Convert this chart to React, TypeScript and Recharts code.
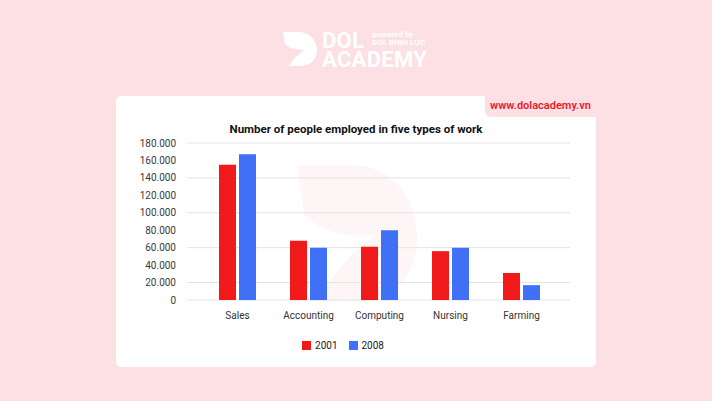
import { Bar, BarChart, CartesianGrid, Legend, XAxis, YAxis } from 'recharts'

const categories = ['Sales', 'Accounting', 'Computing', 'Nursing', 'Farming']
const values2001 = [155000, 68000, 61000, 56000, 31000]
const values2008 = [167000, 60000, 80000, 60000, 17000]
const yTicks = [0, 20000, 40000, 60000, 80000, 100000, 120000, 140000, 160000, 180000]

const data = categories.map((name, i) => ({ name, y2001: values2001[i], y2008: values2008[i] }))

const RED = '#f11a1a'
const BLUE = '#4070f6'
const PINK = '#fde0e4'
const FONT = 'Roboto, "Noto Sans", sans-serif'

const fmt = (v: number) => String(v).replace(/\B(?=(\d{3})+(?!\d))/g, '.')

// D-shaped brand mark, drawn in a 33x33 box
const MARK = 'M0,0 H15 C26,0 33,8 33,18 C33,27 26,33 17,33 H6 C10,26 15,21 22,17 C14,18 6,16 2,12 Z'

function LegendContent() {
  const items = [
    { label: '2001', color: RED },
    { label: '2008', color: BLUE },
  ]
  return (
    <div style={{ display: 'flex', justifyContent: 'center', gap: 11, fontFamily: FONT, fontSize: 10, color: '#222' }}>
      {items.map((it) => (
        <div key={it.label} style={{ display: 'flex', alignItems: 'center', gap: 4 }}>
          <span style={{ width: 9, height: 9, background: it.color, display: 'inline-block' }} />
          <span>{it.label}</span>
        </div>
      ))}
    </div>
  )
}

const logoLine = { position: 'absolute', left: 322, color: '#fff', fontWeight: 700, fontSize: 22, lineHeight: '18px', height: 18, letterSpacing: 0.3 } as const
const smallLine = { position: 'absolute', left: 372, color: '#fff', fontWeight: 700, fontSize: 8, lineHeight: '8px', height: 8 } as const

export default function App() {
  return (
    <div style={{ position: 'absolute', left: 0, top: 0, width: 712, height: 401, background: PINK, overflow: 'hidden', fontFamily: FONT }}>
      {/* header logo */}
      <svg style={{ position: 'absolute', left: 283, top: 32 }} width={34} height={34} viewBox="0 0 33 33">
        <path d={MARK} fill="#fff" />
      </svg>
      <div style={{ ...logoLine, top: 32 }}>DOL</div>
      <div style={{ ...logoLine, top: 50.5 }}>ACADEMY</div>
      <div style={{ ...smallLine, top: 30.5 }}>powered by</div>
      <div style={{ ...smallLine, top: 39 }}>DOL ĐINH LỰC</div>

      {/* card */}
      <div style={{ position: 'absolute', left: 116, top: 96, width: 480, height: 271, background: '#fff', borderRadius: 5 }} />
      <div
        style={{
          position: 'absolute', left: 485, top: 95, width: 111, height: 22, background: PINK,
          borderRadius: '0 0 0 6px', color: '#e8192c', fontWeight: 600, fontSize: 11,
          lineHeight: '22px', textAlign: 'center',
        }}
      >
        www.dolacademy.vn
      </div>

      {/* faint watermark */}
      <svg style={{ position: 'absolute', left: 297, top: 165 }} width={120} height={136} viewBox="0 0 33 33" preserveAspectRatio="none">
        <path d={MARK} fill="#f3c5cb" opacity={0.18} />
      </svg>

      <div style={{ position: 'absolute', left: 116, top: 122, width: 480, textAlign: 'center', fontSize: 11.5, fontWeight: 700, color: '#111' }}>
        Number of people employed in five types of work
      </div>

      <div style={{ position: 'absolute', left: 116, top: 96 }}>
        <BarChart
          width={480}
          height={271}
          data={data}
          margin={{ top: 47, right: 26, left: 0, bottom: 0 }}
          barSize={17}
          barGap={3}
        >
          <CartesianGrid vertical={false} stroke="#e3e3e3" />
          <XAxis
            dataKey="name"
            axisLine={false}
            tickLine={false}
            padding={{ left: 15, right: 13 }}
            tick={{ fontSize: 10, fill: '#333', fontFamily: FONT }}
            tickMargin={6}
            height={40}
          />
          <YAxis
            width={71}
            domain={[0, 180000]}
            ticks={yTicks}
            axisLine={false}
            tickLine={false}
            tickFormatter={fmt}
            tick={{ fontSize: 10, fill: '#3a3a3a', fontFamily: FONT }}
            tickMargin={5}
          />
          <Legend verticalAlign="bottom" height={27} content={<LegendContent />} />
          <Bar dataKey="y2001" name="2001" fill={RED} isAnimationActive={false} />
          <Bar dataKey="y2008" name="2008" fill={BLUE} isAnimationActive={false} />
        </BarChart>
      </div>
    </div>
  )
}
